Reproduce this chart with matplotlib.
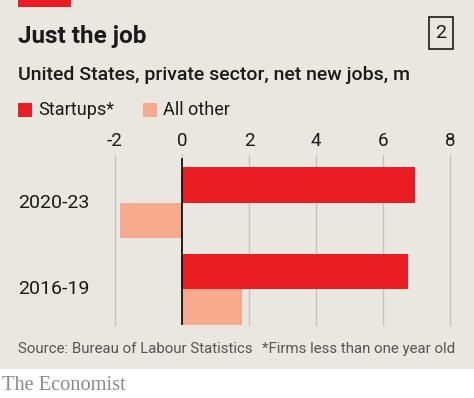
import numpy as np
import matplotlib.pyplot as plt
from matplotlib.patches import Rectangle

periods = ['2020-23', '2016-19']
startups = [6.95, 6.75]
all_other = [-1.85, 1.8]
xticks = [-2, 0, 2, 4, 6, 8]

RED = '#EA1C24'
SALMON = '#F7A98E'
BG = '#E9E7DF'
W, H = 474, 398

fig = plt.figure(figsize=(W / 100, H / 100), dpi=100)
fig.patch.set_facecolor('white')
plt.rcParams['font.family'] = ['Roboto', 'DejaVu Sans']


def fx(px):
    return px / W


def fy(py):
    return 1 - py / H


# beige panel + red tag
fig.patches.append(Rectangle((0, fy(369)), 1, 1 - fy(369), transform=fig.transFigure,
                             facecolor=BG, edgecolor='none', zorder=-5))
fig.patches.append(Rectangle((fx(18), fy(7)), fx(53), fy(0) - fy(7), transform=fig.transFigure,
                             facecolor=RED, edgecolor='none', zorder=1))

# axes: -2..8 spans x 115..450 px, y 158..325 px
ax = fig.add_axes([fx(115), fy(325), fx(450) - fx(115), fy(158) - fy(325)])
ax.set_facecolor('none')
ax.set_zorder(2)
ax.set_xlim(-2, 8)
ax.set_ylim(1.413, -0.517)

y = np.arange(len(periods))
h = 0.41
for t in xticks:
    if t != 0:
        ax.axvline(t, color='#C4C4C0', lw=1, zorder=0, clip_on=False)
ax.barh(y - h / 2, startups, height=h, color=RED, zorder=2)
ax.barh(y + h / 2, all_other, height=h, color=SALMON, zorder=2)
ax.axvline(0, color='black', lw=1.2, zorder=3)

for s in ax.spines.values():
    s.set_visible(False)
ax.set_yticks([])
ax.xaxis.tick_top()
ax.set_xticks(xticks)
ax.set_xticklabels([str(t) for t in xticks], fontsize=13.5, color='#1a1a1a')
ax.tick_params(axis='x', length=3, width=0.8, color='#C4C4C0', pad=3)

for yi, lab in zip(y, periods):
    fig.text(fx(18), fy(203 + yi * 86.5), lab, fontsize=14, color='#1a1a1a', va='center', ha='left')

# titles
fig.text(fx(18), fy(36), 'Just the job', fontsize=17.5, fontweight='bold', color='#1a1a1a', va='center')
fig.text(fx(18), fy(75), 'United States, private sector, net new jobs, m', fontsize=14,
         fontweight='medium', color='#1a1a1a', va='center')
fig.text(fx(441), fy(33), '2', fontsize=14, color='#1a1a1a', va='center', ha='center',
         bbox=dict(boxstyle='square,pad=0.35', facecolor='none', edgecolor='#1a1a1a', lw=1.2))

# legend
for px, lab, col in [(18, 'Startups*', RED), (143, 'All other', SALMON)]:
    fig.patches.append(Rectangle((fx(px), fy(117)), fx(14), fy(103) - fy(117),
                                 transform=fig.transFigure, facecolor=col, edgecolor='none'))
    fig.text(fx(px + 20), fy(110), lab, fontsize=13, color='#1a1a1a', va='center')

# footer
fig.text(fx(18), fy(349), 'Source: Bureau of Labour Statistics', fontsize=10.8, color='#555555', va='center')
fig.text(fx(455), fy(349), '*Firms less than one year old', fontsize=10.8, color='#555555',
         va='center', ha='right')
fig.text(fx(2), fy(386), 'The Economist', fontsize=14.7, family='Liberation Serif', color='#8a8a8a', va='center')

fig.savefig('out.png', dpi=100, facecolor=fig.get_facecolor())
